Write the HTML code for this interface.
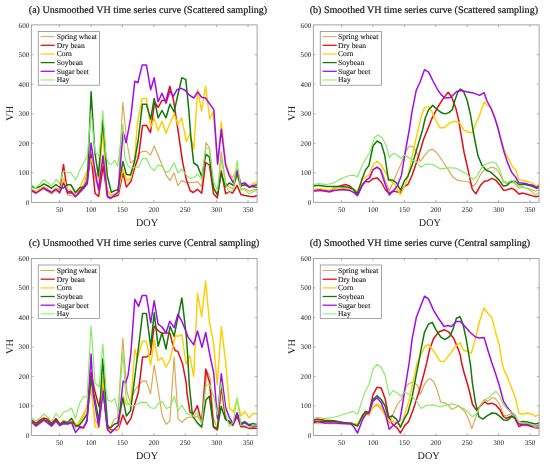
<!DOCTYPE html><html><head><meta charset="utf-8"><title>VH time series</title>
<style>html,body{margin:0;padding:0;background:#fff}svg{display:block}text{text-rendering:geometricPrecision;font-family:"Liberation Serif","Times New Roman",serif;fill:#222}</style></head><body>
<svg width="550" height="465" viewBox="0 0 550 465">
<rect width="550" height="465" fill="#fff"/>
<g id="panel-a">
<text x="28.8" y="12.7" font-size="10.05" fill="#1a1a1a" stroke="#1a1a1a" stroke-width="0.22">(a) Unsmoothed VH time series curve (Scattered sampling)</text>
<clipPath id="cpa"><rect x="31.3" y="24.9" width="225.8" height="177.4"/></clipPath>
<g clip-path="url(#cpa)" fill="none" stroke-linejoin="round" stroke-linecap="butt">
<polyline points="31.7,191.5 36.0,193.5 43.5,189.0 51.5,194.0 56.0,190.5 59.7,193.5 63.5,182.5 67.5,195.0 71.5,195.8 75.5,196.5 80.0,191.5 84.0,185.0 87.3,172.0 91.1,152.0 94.8,178.0 98.6,188.0 102.9,160.0 107.0,190.0 110.7,195.0 118.0,193.0 122.8,102.3 126.6,140.0 130.5,163.0 134.5,160.0 138.5,154.0 142.3,151.5 146.4,151.3 150.5,155.2 154.2,145.9 158.2,155.5 162.0,165.0 166.0,174.9 170.1,180.6 174.1,172.8 177.9,185.5 181.9,180.6 186.2,182.7 190.0,182.4 193.8,182.5 197.4,181.6 201.7,186.7 206.0,142.5 209.6,148.0 213.5,186.7 217.4,195.0 221.2,151.7 225.6,182.9 229.2,187.4 233.3,188.6 237.1,175.9 240.9,189.3 244.7,188.6 249.2,191.2 253.0,189.9 257.2,189.3" stroke="#DDA54E" stroke-width="1.15"/>
<polyline points="31.7,190.0 36.0,192.0 43.5,187.0 51.5,192.0 56.0,188.5 59.7,190.5 63.5,164.5 67.5,193.0 71.5,193.0 75.5,194.5 80.0,190.6 84.0,186.5 87.0,181.3 91.0,154.6 95.1,193.5 98.6,196.4 103.2,166.2 107.3,196.4 110.7,197.6 118.3,195.2 122.9,172.6 126.4,187.1 131.0,181.3 134.4,168.5 138.6,156.4 142.5,125.6 146.4,125.3 150.5,132.6 154.6,101.6 158.1,107.5 162.0,100.4 166.0,100.4 169.8,86.2 173.4,99.5 177.6,127.6 182.6,162.1 186.2,179.1 190.0,190.5 193.2,192.5 197.4,189.3 201.7,193.3 205.7,162.5 209.4,165.0 213.5,193.7 217.4,197.9 221.2,170.8 225.6,193.7 229.2,191.8 232.6,193.1 237.1,185.5 240.9,194.4 244.7,195.4 249.2,196.3 253.0,196.7 257.2,195.6" stroke="#E40D16" stroke-width="1.5"/>
<polyline points="31.7,189.0 36.0,191.5 43.5,186.5 51.5,191.5 56.0,188.0 59.7,191.0 63.5,178.5 67.5,190.0 71.0,190.0 75.5,195.0 80.0,187.0 84.0,178.0 87.3,170.0 91.1,158.7 94.8,170.0 99.3,180.2 102.8,129.5 106.2,188.0 111.3,195.8 117.7,194.0 122.9,169.1 127.0,180.7 131.0,177.8 134.5,161.6 137.4,123.0 142.2,98.5 146.4,98.5 150.7,126.9 154.2,118.4 158.1,130.5 162.0,121.2 166.0,133.3 170.0,123.5 174.1,114.0 177.9,124.8 181.6,118.0 186.4,141.5 189.8,133.8 193.8,149.0 197.6,89.8 201.6,111.1 205.5,86.2 209.8,118.9 213.3,111.8 217.7,165.0 221.3,121.7 225.6,162.5 229.2,173.4 232.6,177.8 237.1,168.3 240.9,184.2 244.7,182.3 249.2,186.1 253.0,183.5 257.2,182.3" stroke="#FFCE00" stroke-width="1.45"/>
<polyline points="31.7,186.5 36.0,188.0 40.0,186.5 44.0,183.8 48.0,186.0 51.5,188.3 56.0,184.5 59.7,187.5 63.5,188.0 67.5,184.5 71.0,185.0 75.5,192.5 79.5,188.0 84.0,186.5 87.3,183.5 91.1,91.7 94.8,152.0 98.4,176.1 102.8,120.0 107.3,176.0 111.3,192.3 114.8,190.5 117.7,190.0 122.9,161.6 126.4,174.4 130.5,175.0 134.5,161.6 138.2,140.0 142.4,104.3 146.4,104.3 150.7,119.1 154.2,98.4 158.1,117.8 162.0,110.5 166.0,117.8 170.0,104.0 174.1,111.9 177.8,95.0 181.9,77.7 185.8,79.6 188.8,110.0 190.9,137.6 193.7,163.0 197.5,165.5 201.7,176.5 205.9,154.3 209.4,156.9 213.5,188.0 217.4,195.0 221.2,173.4 225.6,186.7 229.2,182.9 233.3,185.5 237.1,173.4 240.9,186.1 244.7,184.8 249.2,186.7 253.0,186.5 257.2,187.4" stroke="#12780A" stroke-width="1.5"/>
<polyline points="31.7,190.5 36.0,193.0 43.5,188.0 51.5,192.5 56.0,189.2 59.7,192.5 63.5,183.0 67.5,192.0 71.0,191.5 75.5,196.8 84.0,188.0 87.3,183.6 91.1,143.0 94.8,170.0 98.6,190.0 103.0,155.8 107.8,197.0 110.7,198.5 118.3,191.8 123.0,131.4 126.1,142.7 130.8,117.4 134.8,81.2 137.9,82.7 142.2,64.9 146.4,64.9 150.7,89.8 154.2,77.7 158.1,101.8 162.0,93.3 166.0,103.2 169.8,91.2 173.4,96.1 176.9,89.8 181.2,88.3 185.4,90.5 189.7,95.4 193.8,98.0 197.7,91.9 201.6,97.2 205.5,98.0 213.8,109.6 217.6,163.9 221.3,129.3 225.6,165.1 229.2,175.3 233.3,182.9 237.1,170.8 240.9,184.2 244.7,182.9 249.2,187.4 253.0,185.5 257.2,184.8" stroke="#A00CEB" stroke-width="1.5"/>
<polyline points="31.7,185.0 35.5,188.0 40.0,184.0 44.0,179.5 47.5,182.5 51.5,186.0 56.0,179.5 59.7,183.5 63.5,171.0 67.5,172.5 71.0,172.5 75.5,180.0 80.0,169.7 84.3,161.6 87.5,155.0 91.1,111.0 95.1,152.3 99.1,156.4 102.8,110.8 106.0,156.0 108.4,163.0 111.3,164.5 114.8,160.4 117.7,166.2 122.8,124.3 124.7,157.0 127.6,165.1 131.0,168.3 134.5,167.0 138.6,167.1 142.2,158.6 146.4,158.6 150.4,167.1 154.2,170.6 158.1,165.0 162.0,166.4 166.0,172.8 170.1,170.0 174.1,162.8 177.9,172.8 181.9,169.2 186.2,174.9 189.7,178.4 193.8,177.8 197.4,174.0 201.7,179.1 205.6,148.0 209.4,148.6 213.5,181.6 217.4,190.5 221.2,159.4 225.6,184.2 229.2,193.1 233.3,189.3 237.1,160.6 240.9,189.9 244.7,189.9 249.2,193.7 253.0,191.8 257.2,189.9" stroke="#84EB62" stroke-width="1.15"/>
</g>
<rect x="31.3" y="24.9" width="225.8" height="177.4" fill="none" stroke="#8c8c8c" stroke-width="0.8"/>
<text x="59.6" y="211.9" font-size="7.15" text-anchor="middle" fill="#484848">50</text>
<text x="91.0" y="211.9" font-size="7.15" text-anchor="middle" fill="#484848">100</text>
<text x="122.4" y="211.9" font-size="7.15" text-anchor="middle" fill="#484848">150</text>
<text x="153.8" y="211.9" font-size="7.15" text-anchor="middle" fill="#484848">200</text>
<text x="185.2" y="211.9" font-size="7.15" text-anchor="middle" fill="#484848">250</text>
<text x="216.6" y="211.9" font-size="7.15" text-anchor="middle" fill="#484848">300</text>
<text x="248.0" y="211.9" font-size="7.15" text-anchor="middle" fill="#484848">350</text>
<text x="29.3" y="204.6" font-size="7.15" text-anchor="end" fill="#484848">0</text>
<text x="29.3" y="175.1" font-size="7.15" text-anchor="end" fill="#484848">100</text>
<text x="29.3" y="145.6" font-size="7.15" text-anchor="end" fill="#484848">200</text>
<text x="29.3" y="116.1" font-size="7.15" text-anchor="end" fill="#484848">300</text>
<text x="29.3" y="86.5" font-size="7.15" text-anchor="end" fill="#484848">400</text>
<text x="29.3" y="57.0" font-size="7.15" text-anchor="end" fill="#484848">500</text>
<text x="29.3" y="27.5" font-size="7.15" text-anchor="end" fill="#484848">600</text>
<path d="M59.6,202.3v-2.3M59.6,24.9v2.3M91.0,202.3v-2.3M91.0,24.9v2.3M122.4,202.3v-2.3M122.4,24.9v2.3M153.8,202.3v-2.3M153.8,24.9v2.3M185.2,202.3v-2.3M185.2,24.9v2.3M216.6,202.3v-2.3M216.6,24.9v2.3M248.0,202.3v-2.3M248.0,24.9v2.3M31.3,172.8h2.3M257.1,172.8h-2.3M31.3,143.3h2.3M257.1,143.3h-2.3M31.3,113.8h2.3M257.1,113.8h-2.3M31.3,84.2h2.3M257.1,84.2h-2.3M31.3,54.7h2.3M257.1,54.7h-2.3" stroke="#8c8c8c" stroke-width="0.65" fill="none"/>
<text x="147.0" y="226.1" font-size="10.2" text-anchor="middle">DOY</text>
<text transform="translate(13.3,113.3) rotate(-90)" font-size="10.2" text-anchor="middle">VH</text>
<rect x="38.2" y="31.6" width="61.3" height="53.6" fill="#fff" stroke="#777" stroke-width="0.65"/>
<line x1="40.6" x2="54.8" y1="36.6" y2="36.6" stroke="#DDA54E" stroke-width="0.98"/>
<text x="56.70" y="38.9" font-size="7.6" fill="#222" stroke="#222" stroke-width="0.12">Spring wheat</text>
<line x1="40.6" x2="54.8" y1="45.3" y2="45.3" stroke="#E40D16" stroke-width="1.27"/>
<text x="56.70" y="47.6" font-size="7.6" fill="#222" stroke="#222" stroke-width="0.12">Dry bean</text>
<line x1="40.6" x2="54.8" y1="54.0" y2="54.0" stroke="#FFCE00" stroke-width="1.23"/>
<text x="56.70" y="56.3" font-size="7.6" fill="#222" stroke="#222" stroke-width="0.12">Corn</text>
<line x1="40.6" x2="54.8" y1="62.6" y2="62.6" stroke="#12780A" stroke-width="1.27"/>
<text x="56.70" y="64.9" font-size="7.6" fill="#222" stroke="#222" stroke-width="0.12">Soybean</text>
<line x1="40.6" x2="54.8" y1="71.3" y2="71.3" stroke="#A00CEB" stroke-width="1.27"/>
<text x="56.70" y="73.6" font-size="7.6" fill="#222" stroke="#222" stroke-width="0.12">Sugar beet</text>
<line x1="40.6" x2="54.8" y1="80.0" y2="80.0" stroke="#84EB62" stroke-width="0.98"/>
<text x="56.70" y="82.3" font-size="7.6" fill="#222" stroke="#222" stroke-width="0.12">Hay</text>
</g>
<g id="panel-b">
<text x="309.7" y="12.7" font-size="10.05" fill="#1a1a1a" stroke="#1a1a1a" stroke-width="0.22">(b) Smoothed VH time series curve (Scattered sampling)</text>
<clipPath id="cpb"><rect x="313.3" y="24.9" width="225.8" height="177.4"/></clipPath>
<g clip-path="url(#cpb)" fill="none" stroke-linejoin="round" stroke-linecap="butt">
<polyline points="313.6,191.2 319.8,190.6 329.6,192.2 334.5,190.6 342.7,189.8 349.3,190.6 354.2,193.0 357.5,195.2 362.4,184.9 366.5,180.4 369.7,177.1 373.0,169.7 377.1,166.5 381.2,169.7 385.3,180.4 389.2,191.0 393.2,182.0 397.3,172.2 401.4,163.2 405.5,151.7 409.5,146.0 413.6,146.8 417.7,155.0 420.2,161.5 424.3,155.8 429.2,150.1 432.5,149.3 436.6,152.5 442.3,160.7 448.8,170.6 452.9,177.1 457.8,180.4 463.6,181.2 468.2,181.7 473.1,186.1 476.4,182.8 480.5,174.6 484.5,169.7 488.6,168.6 491.9,167.0 496.0,168.6 499.3,173.0 503.4,182.0 506.6,183.6 511.6,180.4 515.6,184.5 518.9,188.2 523.0,187.2 527.1,188.2 532.0,189.9 535.3,191.0 539.2,189.9" stroke="#DDA54E" stroke-width="1.15"/>
<polyline points="313.6,190.2 319.8,189.4 329.6,191.0 334.5,187.7 339.5,186.1 345.2,184.5 349.3,185.6 353.4,189.4 357.5,194.8 362.4,184.5 365.6,181.2 368.9,182.0 373.0,178.7 377.1,177.9 381.2,182.0 385.3,189.5 389.1,193.5 393.2,191.0 396.5,191.8 400.5,192.6 404.6,186.1 407.9,184.5 412.0,175.5 417.7,159.1 423.5,139.5 427.6,129.5 431.8,118.8 437.6,107.4 443.3,98.4 448.2,92.3 451.5,96.7 455.6,107.4 458.8,120.5 460.4,130.8 464.1,152.5 468.2,170.6 472.3,189.4 475.9,193.8 480.5,185.3 484.5,181.2 487.8,180.7 491.9,178.4 496.0,180.4 500.1,185.3 503.4,190.2 506.6,189.9 511.6,188.2 514.8,189.9 518.9,194.0 523.0,193.1 528.7,194.8 532.8,195.9 536.1,196.7 539.2,195.9" stroke="#E40D16" stroke-width="1.5"/>
<polyline points="313.6,189.4 319.8,188.6 329.6,190.2 334.5,187.7 342.7,188.2 350.9,188.6 357.5,191.0 362.4,179.6 366.5,176.3 368.9,175.5 373.0,164.8 377.1,161.2 381.2,164.8 385.3,172.2 389.9,180.4 394.8,184.5 400.5,194.8 406.3,182.0 409.5,168.9 413.6,149.3 417.8,131.2 421.2,116.4 424.5,107.4 428.6,106.6 431.8,111.5 435.9,120.5 440.0,127.8 444.1,127.8 449.8,122.9 454.7,121.3 459.6,122.6 463.9,130.0 468.2,132.0 472.3,133.0 475.5,124.0 479.6,115.0 484.2,101.9 487.0,105.2 490.6,107.3 495.4,118.5 498.6,130.0 504.4,150.9 508.3,158.3 512.4,166.5 515.6,169.7 518.9,179.6 524.6,180.7 528.7,181.7 532.8,183.6 536.1,186.1 539.2,184.5" stroke="#FFCE00" stroke-width="1.45"/>
<polyline points="313.6,186.1 318.2,185.3 326.4,186.4 339.5,186.6 347.6,186.9 353.4,189.4 357.5,193.5 362.4,177.9 365.6,169.7 368.9,165.6 373.0,146.0 377.1,141.1 381.2,143.5 384.7,155.0 388.4,180.0 392.4,180.0 396.5,182.8 400.5,190.2 404.6,180.4 407.9,176.3 412.0,165.6 417.7,146.0 422.5,130.0 425.3,118.0 428.6,109.8 432.6,105.4 437.6,109.8 441.6,112.8 444.9,113.9 449.0,112.6 452.3,109.8 454.7,100.8 458.0,91.8 460.5,89.0 463.5,91.3 467.2,100.5 470.4,114.5 473.0,130.0 475.0,141.0 478.0,155.8 482.1,165.6 486.2,170.2 490.3,171.9 494.4,175.5 499.3,180.4 503.4,186.1 506.6,185.6 510.7,182.0 514.8,181.2 518.9,184.5 524.6,184.5 528.7,185.3 532.8,186.6 536.1,188.2 539.2,187.7" stroke="#12780A" stroke-width="1.5"/>
<polyline points="313.6,191.0 319.8,190.2 329.6,191.8 334.5,190.2 342.7,189.4 349.3,190.2 354.2,192.6 357.5,195.6 362.4,185.3 366.5,179.6 369.7,177.9 373.0,169.7 377.1,167.3 380.4,169.7 385.3,184.5 389.3,195.1 393.2,191.0 397.3,186.1 401.4,175.5 405.5,150.9 409.2,130.0 412.2,110.6 416.3,90.2 420.4,81.2 424.5,69.7 428.6,72.2 433.5,82.0 438.4,91.0 441.6,95.1 444.9,97.9 450.6,97.5 456.4,91.8 460.5,90.5 466.5,91.8 473.1,92.9 479.6,95.4 484.1,92.6 487.0,101.1 491.1,108.5 495.2,119.1 498.0,128.5 500.9,140.0 504.2,152.5 507.5,162.4 511.6,172.2 515.6,177.1 518.9,182.8 524.6,183.3 528.7,184.5 532.8,185.3 536.1,187.2 539.2,186.1" stroke="#A00CEB" stroke-width="1.5"/>
<polyline points="313.6,184.5 318.2,183.6 326.4,184.5 332.9,183.3 339.5,179.6 347.6,176.0 353.4,175.1 357.5,176.8 362.4,164.8 366.5,157.5 369.7,152.5 374.6,137.8 377.9,134.9 382.0,137.5 386.1,145.2 389.3,157.5 393.4,153.4 397.3,155.0 400.5,158.3 404.6,155.0 409.5,158.3 416.1,161.5 421.0,167.3 425.9,164.0 432.5,164.3 440.6,168.9 448.8,167.8 455.4,168.1 460.0,170.2 466.5,173.8 469.8,177.1 473.1,179.1 476.4,177.1 480.5,169.7 484.5,164.8 488.6,163.2 492.7,162.0 496.0,163.2 500.1,170.6 503.4,180.4 507.5,182.8 511.6,180.4 514.8,182.0 518.9,186.1 523.0,186.9 527.1,188.6 532.0,191.8 535.3,194.8 539.2,192.6" stroke="#84EB62" stroke-width="1.15"/>
</g>
<rect x="313.3" y="24.9" width="225.8" height="177.4" fill="none" stroke="#8c8c8c" stroke-width="0.8"/>
<text x="341.6" y="211.9" font-size="7.15" text-anchor="middle" fill="#484848">50</text>
<text x="373.0" y="211.9" font-size="7.15" text-anchor="middle" fill="#484848">100</text>
<text x="404.4" y="211.9" font-size="7.15" text-anchor="middle" fill="#484848">150</text>
<text x="435.8" y="211.9" font-size="7.15" text-anchor="middle" fill="#484848">200</text>
<text x="467.2" y="211.9" font-size="7.15" text-anchor="middle" fill="#484848">250</text>
<text x="498.6" y="211.9" font-size="7.15" text-anchor="middle" fill="#484848">300</text>
<text x="530.0" y="211.9" font-size="7.15" text-anchor="middle" fill="#484848">350</text>
<text x="311.3" y="204.6" font-size="7.15" text-anchor="end" fill="#484848">0</text>
<text x="311.3" y="175.1" font-size="7.15" text-anchor="end" fill="#484848">100</text>
<text x="311.3" y="145.6" font-size="7.15" text-anchor="end" fill="#484848">200</text>
<text x="311.3" y="116.1" font-size="7.15" text-anchor="end" fill="#484848">300</text>
<text x="311.3" y="86.5" font-size="7.15" text-anchor="end" fill="#484848">400</text>
<text x="311.3" y="57.0" font-size="7.15" text-anchor="end" fill="#484848">500</text>
<text x="311.3" y="27.5" font-size="7.15" text-anchor="end" fill="#484848">600</text>
<path d="M341.6,202.3v-2.3M341.6,24.9v2.3M373.0,202.3v-2.3M373.0,24.9v2.3M404.4,202.3v-2.3M404.4,24.9v2.3M435.8,202.3v-2.3M435.8,24.9v2.3M467.2,202.3v-2.3M467.2,24.9v2.3M498.6,202.3v-2.3M498.6,24.9v2.3M530.0,202.3v-2.3M530.0,24.9v2.3M313.3,172.8h2.3M539.1,172.8h-2.3M313.3,143.3h2.3M539.1,143.3h-2.3M313.3,113.8h2.3M539.1,113.8h-2.3M313.3,84.2h2.3M539.1,84.2h-2.3M313.3,54.7h2.3M539.1,54.7h-2.3" stroke="#8c8c8c" stroke-width="0.65" fill="none"/>
<text x="429.9" y="226.1" font-size="10.2" text-anchor="middle">DOY</text>
<text transform="translate(295.3,113.3) rotate(-90)" font-size="10.2" text-anchor="middle">VH</text>
<rect x="320.2" y="31.6" width="61.3" height="53.6" fill="#fff" stroke="#777" stroke-width="0.65"/>
<line x1="322.6" x2="336.8" y1="36.6" y2="36.6" stroke="#DDA54E" stroke-width="0.98"/>
<text x="338.05" y="38.9" font-size="7.6" fill="#222" stroke="#222" stroke-width="0.12">Spring wheat</text>
<line x1="322.6" x2="336.8" y1="45.3" y2="45.3" stroke="#E40D16" stroke-width="1.27"/>
<text x="338.05" y="47.6" font-size="7.6" fill="#222" stroke="#222" stroke-width="0.12">Dry bean</text>
<line x1="322.6" x2="336.8" y1="54.0" y2="54.0" stroke="#FFCE00" stroke-width="1.23"/>
<text x="338.05" y="56.3" font-size="7.6" fill="#222" stroke="#222" stroke-width="0.12">Corn</text>
<line x1="322.6" x2="336.8" y1="62.6" y2="62.6" stroke="#12780A" stroke-width="1.27"/>
<text x="338.05" y="64.9" font-size="7.6" fill="#222" stroke="#222" stroke-width="0.12">Soybean</text>
<line x1="322.6" x2="336.8" y1="71.3" y2="71.3" stroke="#A00CEB" stroke-width="1.27"/>
<text x="338.05" y="73.6" font-size="7.6" fill="#222" stroke="#222" stroke-width="0.12">Sugar beet</text>
<line x1="322.6" x2="336.8" y1="80.0" y2="80.0" stroke="#84EB62" stroke-width="0.98"/>
<text x="338.05" y="82.3" font-size="7.6" fill="#222" stroke="#222" stroke-width="0.12">Hay</text>
</g>
<g id="panel-c">
<text x="28.8" y="245.9" font-size="10.05" fill="#1a1a1a" stroke="#1a1a1a" stroke-width="0.22">(c) Unsmoothed VH time series curve (Central sampling)</text>
<clipPath id="cpc"><rect x="31.3" y="258.4" width="225.8" height="177.10000000000002"/></clipPath>
<g clip-path="url(#cpc)" fill="none" stroke-linejoin="round" stroke-linecap="butt">
<polyline points="31.7,422.5 36.0,426.5 44.0,420.5 51.5,426.5 56.0,421.5 59.7,426.0 63.5,424.0 67.5,424.5 71.5,423.0 75.5,428.0 79.5,421.0 85.5,410.0 87.5,404.0 91.1,390.0 95.1,420.0 99.1,426.0 102.7,392.0 107.0,424.0 110.7,428.0 112.5,422.4 114.8,419.0 117.7,417.8 122.8,338.4 127.0,392.3 130.3,402.4 135.0,389.8 142.2,381.1 146.4,381.1 150.5,393.9 154.2,364.8 158.2,390.0 162.3,416.1 166.1,424.3 169.9,421.1 174.1,357.0 178.1,418.6 181.9,422.4 186.4,418.0 190.2,417.0 193.8,417.8 197.4,415.9 201.7,422.9 207.2,371.2 210.1,377.8 213.5,418.0 217.4,429.3 221.2,383.5 225.6,418.5 229.2,423.5 233.3,424.8 237.1,415.9 240.9,426.1 244.7,426.1 249.2,427.4 253.0,426.7 257.2,426.7" stroke="#DDA54E" stroke-width="1.15"/>
<polyline points="31.7,420.0 36.0,423.0 40.0,420.0 44.0,418.0 48.0,419.5 51.5,423.5 56.0,418.5 59.7,424.0 63.5,422.0 67.5,423.5 71.5,422.0 75.5,425.0 79.5,426.5 83.5,427.7 87.0,421.3 91.1,372.5 95.1,392.3 99.1,406.8 102.7,384.0 107.0,425.0 110.7,430.0 114.5,430.0 118.3,429.4 122.9,414.9 127.0,424.2 131.0,418.4 134.4,405.5 138.4,392.2 142.6,357.0 146.4,357.0 150.4,354.2 154.2,326.3 158.1,330.6 162.0,333.4 166.0,332.7 170.1,333.4 172.7,344.7 175.2,350.5 177.9,351.4 182.6,364.1 186.2,382.6 187.0,393.2 190.0,412.1 193.2,414.0 197.4,405.7 201.7,422.9 205.8,369.1 209.5,382.0 213.5,427.4 217.4,429.9 221.2,386.0 225.6,418.5 229.2,422.3 232.6,425.5 237.1,416.5 240.9,426.7 244.7,426.7 249.2,428.4 253.0,428.0 257.2,428.4" stroke="#E40D16" stroke-width="1.5"/>
<polyline points="31.7,423.0 36.0,426.5 44.0,421.0 51.5,426.0 56.0,421.5 59.7,425.0 63.5,420.0 67.5,423.0 71.5,418.0 75.5,424.0 78.0,424.5 81.0,420.0 84.6,414.3 87.3,405.0 91.1,386.0 95.1,427.1 99.1,427.7 102.9,377.0 107.0,425.0 109.0,430.0 111.3,431.1 118.3,429.4 122.9,395.8 126.4,404.5 129.3,404.5 130.8,403.0 134.8,349.2 137.4,358.4 142.2,341.3 146.4,341.3 150.7,364.8 154.2,339.9 158.1,360.6 162.0,357.7 166.0,367.0 170.1,359.9 173.4,344.5 175.5,335.5 177.9,336.2 181.9,334.8 186.1,364.0 189.7,355.7 193.7,376.4 197.5,293.1 201.7,316.6 205.6,281.1 209.5,322.2 213.7,344.0 217.2,384.7 221.3,326.7 225.5,360.5 229.5,408.3 233.3,412.1 237.1,399.4 240.9,415.9 244.7,411.5 249.2,417.8 253.0,413.4 257.2,414.0" stroke="#FFCE00" stroke-width="1.45"/>
<polyline points="31.7,421.6 36.0,424.7 40.0,421.7 44.0,419.8 48.0,421.2 51.5,425.2 56.0,420.3 59.7,424.6 63.5,421.5 67.5,422.5 71.5,418.5 75.5,426.0 79.5,425.0 82.5,421.0 84.6,417.8 87.3,414.0 91.1,379.6 95.1,400.4 99.1,421.3 102.7,359.0 107.8,428.2 111.3,427.1 114.2,424.2 117.7,423.0 122.9,398.1 126.4,416.1 130.5,410.8 133.1,390.7 138.3,349.0 142.6,313.5 146.4,313.5 150.7,346.9 154.2,312.8 158.1,346.2 162.0,332.7 166.0,349.0 170.1,326.3 174.1,336.2 181.9,297.9 186.2,334.8 187.6,354.0 189.3,385.0 192.5,415.9 197.4,422.9 201.7,427.1 205.9,400.0 209.3,396.2 213.5,426.7 217.4,428.6 221.2,406.4 225.6,419.7 229.2,421.0 232.6,424.8 237.1,413.4 240.9,423.5 244.7,421.6 249.2,424.8 253.0,423.5 257.2,424.8" stroke="#12780A" stroke-width="1.5"/>
<polyline points="31.7,422.0 36.0,426.0 44.0,420.0 51.5,426.0 56.0,421.0 59.7,425.5 63.5,423.5 67.5,424.0 71.5,422.5 75.5,432.5 79.5,427.5 83.5,427.7 87.0,420.1 91.1,354.0 93.3,394.6 98.6,426.5 103.2,391.1 107.3,429.4 110.7,432.9 118.3,425.3 123.2,381.0 125.4,383.0 128.0,375.5 130.8,354.0 134.8,299.3 138.6,306.4 142.2,295.4 146.4,295.4 150.7,322.8 154.2,300.8 158.1,324.2 162.0,327.0 166.0,332.7 169.8,321.3 174.1,327.7 177.9,314.2 181.9,321.3 186.2,332.0 188.1,337.1 193.7,344.7 197.5,331.0 202.0,347.4 205.7,332.5 209.6,353.6 213.7,373.0 217.4,418.5 221.3,373.7 225.6,407.0 229.2,417.2 233.3,424.2 237.1,412.7 240.9,424.8 244.7,422.9 249.2,425.5 253.0,425.8 257.2,426.1" stroke="#A00CEB" stroke-width="1.5"/>
<polyline points="31.7,418.0 36.0,421.0 40.0,418.0 44.0,414.0 48.0,417.5 51.5,421.5 56.0,413.5 59.7,418.0 63.5,412.0 67.5,411.0 71.5,408.0 75.5,418.5 79.5,403.5 83.5,396.5 87.0,397.5 91.1,325.7 95.1,383.0 99.2,387.0 102.8,344.1 106.0,389.0 107.8,400.0 111.3,401.6 114.8,398.7 118.3,412.0 122.8,352.0 125.8,395.8 127.6,402.7 131.0,405.6 134.5,405.6 137.5,404.0 142.0,402.1 146.4,402.4 150.6,407.8 154.6,408.5 158.5,403.4 162.3,401.5 166.1,408.5 169.9,407.2 174.3,396.5 178.1,410.4 181.9,405.3 186.4,412.9 190.2,415.0 193.8,416.5 197.4,412.7 201.7,423.5 205.5,386.6 209.3,384.1 213.5,395.5 217.4,414.6 221.2,382.0 225.6,413.4 229.2,426.1 233.3,422.3 237.1,397.5 240.9,425.5 244.7,425.5 249.2,427.4 253.0,425.5 257.2,424.8" stroke="#84EB62" stroke-width="1.15"/>
</g>
<rect x="31.3" y="258.4" width="225.8" height="177.1" fill="none" stroke="#8c8c8c" stroke-width="0.8"/>
<text x="59.6" y="445.1" font-size="7.15" text-anchor="middle" fill="#484848">50</text>
<text x="91.0" y="445.1" font-size="7.15" text-anchor="middle" fill="#484848">100</text>
<text x="122.4" y="445.1" font-size="7.15" text-anchor="middle" fill="#484848">150</text>
<text x="153.8" y="445.1" font-size="7.15" text-anchor="middle" fill="#484848">200</text>
<text x="185.2" y="445.1" font-size="7.15" text-anchor="middle" fill="#484848">250</text>
<text x="216.6" y="445.1" font-size="7.15" text-anchor="middle" fill="#484848">300</text>
<text x="248.0" y="445.1" font-size="7.15" text-anchor="middle" fill="#484848">350</text>
<text x="29.3" y="437.8" font-size="7.15" text-anchor="end" fill="#484848">0</text>
<text x="29.3" y="408.3" font-size="7.15" text-anchor="end" fill="#484848">100</text>
<text x="29.3" y="378.8" font-size="7.15" text-anchor="end" fill="#484848">200</text>
<text x="29.3" y="349.3" font-size="7.15" text-anchor="end" fill="#484848">300</text>
<text x="29.3" y="319.7" font-size="7.15" text-anchor="end" fill="#484848">400</text>
<text x="29.3" y="290.2" font-size="7.15" text-anchor="end" fill="#484848">500</text>
<text x="29.3" y="260.7" font-size="7.15" text-anchor="end" fill="#484848">600</text>
<path d="M59.6,435.5v-2.3M59.6,258.4v2.3M91.0,435.5v-2.3M91.0,258.4v2.3M122.4,435.5v-2.3M122.4,258.4v2.3M153.8,435.5v-2.3M153.8,258.4v2.3M185.2,435.5v-2.3M185.2,258.4v2.3M216.6,435.5v-2.3M216.6,258.4v2.3M248.0,435.5v-2.3M248.0,258.4v2.3M31.3,406.0h2.3M257.1,406.0h-2.3M31.3,376.5h2.3M257.1,376.5h-2.3M31.3,347.0h2.3M257.1,347.0h-2.3M31.3,317.4h2.3M257.1,317.4h-2.3M31.3,287.9h2.3M257.1,287.9h-2.3" stroke="#8c8c8c" stroke-width="0.65" fill="none"/>
<text x="147.0" y="459.3" font-size="10.2" text-anchor="middle">DOY</text>
<text transform="translate(13.3,346.6) rotate(-90)" font-size="10.2" text-anchor="middle">VH</text>
<rect x="38.2" y="265.0" width="61.3" height="53.6" fill="#fff" stroke="#777" stroke-width="0.65"/>
<line x1="40.6" x2="54.8" y1="270.5" y2="270.5" stroke="#DDA54E" stroke-width="0.98"/>
<text x="56.70" y="272.8" font-size="7.6" fill="#222" stroke="#222" stroke-width="0.12">Spring wheat</text>
<line x1="40.6" x2="54.8" y1="279.2" y2="279.2" stroke="#E40D16" stroke-width="1.27"/>
<text x="56.70" y="281.5" font-size="7.6" fill="#222" stroke="#222" stroke-width="0.12">Dry bean</text>
<line x1="40.6" x2="54.8" y1="287.9" y2="287.9" stroke="#FFCE00" stroke-width="1.23"/>
<text x="56.70" y="290.2" font-size="7.6" fill="#222" stroke="#222" stroke-width="0.12">Corn</text>
<line x1="40.6" x2="54.8" y1="296.5" y2="296.5" stroke="#12780A" stroke-width="1.27"/>
<text x="56.70" y="298.8" font-size="7.6" fill="#222" stroke="#222" stroke-width="0.12">Soybean</text>
<line x1="40.6" x2="54.8" y1="305.2" y2="305.2" stroke="#A00CEB" stroke-width="1.27"/>
<text x="56.70" y="307.5" font-size="7.6" fill="#222" stroke="#222" stroke-width="0.12">Sugar beet</text>
<line x1="40.6" x2="54.8" y1="313.9" y2="313.9" stroke="#84EB62" stroke-width="0.98"/>
<text x="56.70" y="316.2" font-size="7.6" fill="#222" stroke="#222" stroke-width="0.12">Hay</text>
</g>
<g id="panel-d">
<text x="309.7" y="245.9" font-size="10.05" fill="#1a1a1a" stroke="#1a1a1a" stroke-width="0.22">(d) Smoothed VH time series curve (Central sampling)</text>
<clipPath id="cpd"><rect x="313.3" y="258.4" width="225.8" height="177.10000000000002"/></clipPath>
<g clip-path="url(#cpd)" fill="none" stroke-linejoin="round" stroke-linecap="butt">
<polyline points="313.6,423.4 324.7,423.6 334.5,423.8 342.7,423.8 350.9,424.0 357.5,424.4 362.4,415.2 365.6,410.9 368.9,413.4 373.0,407.6 377.1,405.2 381.2,409.3 385.3,415.8 389.3,423.2 393.2,413.4 397.3,404.4 401.4,399.5 405.5,387.2 409.5,383.1 413.6,382.3 417.7,385.5 420.2,394.6 424.3,384.7 428.4,379.0 430.8,379.0 434.1,382.3 437.4,390.5 440.6,401.9 446.4,403.6 452.1,409.3 458.6,406.0 464.9,411.5 468.7,419.5 471.8,428.6 475.5,418.3 479.6,406.0 484.2,399.5 487.8,401.1 491.9,397.8 495.2,398.3 499.3,403.6 503.4,415.0 506.6,415.8 511.6,413.4 515.6,418.3 518.9,424.0 523.0,423.2 527.1,423.5 532.0,425.2 535.3,426.1 539.2,425.2" stroke="#DDA54E" stroke-width="1.15"/>
<polyline points="313.6,419.9 317.4,419.1 324.7,420.2 334.5,420.7 342.7,422.4 350.9,422.9 357.5,425.6 362.4,416.6 366.5,412.6 368.9,413.4 373.0,394.6 377.1,387.2 381.2,388.0 385.2,399.0 388.6,416.6 392.4,424.0 397.3,428.1 400.5,433.0 404.6,425.6 408.7,421.6 413.6,408.5 419.4,390.5 424.3,372.5 426.8,362.5 429.4,350.2 433.5,338.7 438.4,332.2 444.1,329.7 449.0,332.2 453.9,338.7 458.0,348.6 460.4,355.5 461.5,362.5 464.1,372.8 466.5,380.8 469.3,390.5 472.5,404.5 476.4,410.1 480.5,406.0 484.5,401.9 487.8,403.9 491.9,403.2 496.0,405.2 500.1,410.1 503.4,416.6 506.6,418.3 511.6,415.8 514.8,418.3 518.9,426.5 523.0,424.8 527.1,425.2 532.0,426.5 535.3,427.8 539.2,428.1" stroke="#E40D16" stroke-width="1.5"/>
<polyline points="313.6,423.2 324.7,423.2 334.5,423.5 342.7,422.9 350.9,422.9 357.5,424.0 362.4,415.0 366.5,414.2 368.9,415.8 373.0,406.8 377.1,403.9 381.2,406.8 385.2,414.5 389.1,420.7 394.8,421.6 400.5,426.5 404.6,415.0 409.5,398.6 413.6,379.0 417.3,362.5 421.2,354.3 424.5,346.9 428.6,344.5 431.8,348.6 435.9,354.3 440.0,361.2 444.1,361.4 449.8,354.3 455.6,346.1 460.1,342.7 463.5,350.5 467.6,351.2 471.3,353.4 475.4,338.6 479.5,321.5 484.0,308.0 487.8,313.2 491.9,317.6 495.2,331.2 499.3,345.1 501.9,362.0 503.4,368.4 507.5,377.4 511.6,388.0 515.6,398.6 518.9,413.4 523.0,414.2 527.1,413.0 532.0,414.2 535.3,416.3 539.2,414.7" stroke="#FFCE00" stroke-width="1.45"/>
<polyline points="313.6,421.2 324.7,421.2 334.5,421.6 342.7,422.4 350.9,423.2 357.5,426.1 362.4,415.8 365.6,411.4 368.9,412.6 373.0,399.5 377.1,395.7 381.2,399.5 385.2,406.0 388.3,417.5 392.4,415.8 396.5,419.1 400.5,427.3 404.6,418.3 407.9,412.6 412.0,397.8 416.1,375.7 418.7,362.5 421.2,348.6 424.5,332.2 428.6,324.0 432.3,322.4 435.9,329.7 440.8,337.1 444.9,339.6 449.8,336.3 453.1,328.9 456.4,318.3 460.1,316.8 463.1,324.5 466.3,339.5 469.2,357.0 470.5,365.0 472.4,383.0 475.3,401.9 478.8,416.6 482.9,419.1 487.0,415.8 491.9,413.0 496.0,413.4 500.1,416.6 503.4,419.9 507.5,420.2 511.6,416.6 514.8,417.5 518.9,422.4 523.0,421.6 527.1,421.9 532.0,423.2 535.3,424.0 539.2,422.9" stroke="#12780A" stroke-width="1.5"/>
<polyline points="313.6,422.9 317.4,421.6 324.7,422.9 334.5,422.9 342.7,423.5 350.9,424.0 354.2,427.3 357.5,433.0 362.4,419.9 366.5,413.4 368.9,413.4 373.0,401.1 377.1,397.8 381.2,402.7 385.2,413.0 389.2,429.3 394.0,424.8 399.7,420.7 402.2,406.8 405.5,385.5 409.2,362.5 412.2,338.7 416.3,317.5 420.4,306.8 424.5,296.2 428.6,299.1 433.5,310.1 438.4,318.3 444.1,326.5 447.4,325.6 451.5,326.5 456.4,321.5 460.3,321.4 464.6,326.0 470.3,332.5 475.4,337.0 479.6,338.1 484.1,337.4 487.8,350.0 491.5,361.7 495.2,372.5 499.3,385.5 503.4,401.1 507.5,407.6 511.6,412.6 514.8,415.0 518.9,424.0 523.0,424.5 527.1,424.0 532.0,425.6 535.3,427.3 539.2,424.8" stroke="#A00CEB" stroke-width="1.5"/>
<polyline points="313.6,418.3 318.2,417.5 324.7,418.6 332.9,417.5 339.5,415.8 347.6,413.0 353.4,411.4 357.5,414.2 361.6,401.9 365.6,390.5 368.9,384.7 373.0,369.2 377.1,364.3 381.2,367.5 385.2,375.5 389.3,395.4 392.9,390.5 397.3,392.9 400.5,396.2 404.6,392.1 409.5,394.6 416.1,400.3 421.0,408.5 425.9,405.5 432.5,404.9 440.6,406.8 447.2,404.9 452.1,403.9 458.6,406.0 464.9,409.3 469.0,413.4 472.3,416.8 476.4,413.7 480.5,405.2 484.5,400.3 488.6,397.8 492.7,393.7 496.0,391.3 499.3,395.4 503.4,404.4 507.5,409.3 511.6,412.6 514.8,415.0 518.9,422.4 523.0,422.9 527.1,423.2 532.0,424.8 535.3,427.3 539.2,425.6" stroke="#84EB62" stroke-width="1.15"/>
</g>
<rect x="313.3" y="258.4" width="225.8" height="177.1" fill="none" stroke="#8c8c8c" stroke-width="0.8"/>
<text x="341.6" y="445.1" font-size="7.15" text-anchor="middle" fill="#484848">50</text>
<text x="373.0" y="445.1" font-size="7.15" text-anchor="middle" fill="#484848">100</text>
<text x="404.4" y="445.1" font-size="7.15" text-anchor="middle" fill="#484848">150</text>
<text x="435.8" y="445.1" font-size="7.15" text-anchor="middle" fill="#484848">200</text>
<text x="467.2" y="445.1" font-size="7.15" text-anchor="middle" fill="#484848">250</text>
<text x="498.6" y="445.1" font-size="7.15" text-anchor="middle" fill="#484848">300</text>
<text x="530.0" y="445.1" font-size="7.15" text-anchor="middle" fill="#484848">350</text>
<text x="311.3" y="437.8" font-size="7.15" text-anchor="end" fill="#484848">0</text>
<text x="311.3" y="408.3" font-size="7.15" text-anchor="end" fill="#484848">100</text>
<text x="311.3" y="378.8" font-size="7.15" text-anchor="end" fill="#484848">200</text>
<text x="311.3" y="349.3" font-size="7.15" text-anchor="end" fill="#484848">300</text>
<text x="311.3" y="319.7" font-size="7.15" text-anchor="end" fill="#484848">400</text>
<text x="311.3" y="290.2" font-size="7.15" text-anchor="end" fill="#484848">500</text>
<text x="311.3" y="260.7" font-size="7.15" text-anchor="end" fill="#484848">600</text>
<path d="M341.6,435.5v-2.3M341.6,258.4v2.3M373.0,435.5v-2.3M373.0,258.4v2.3M404.4,435.5v-2.3M404.4,258.4v2.3M435.8,435.5v-2.3M435.8,258.4v2.3M467.2,435.5v-2.3M467.2,258.4v2.3M498.6,435.5v-2.3M498.6,258.4v2.3M530.0,435.5v-2.3M530.0,258.4v2.3M313.3,406.0h2.3M539.1,406.0h-2.3M313.3,376.5h2.3M539.1,376.5h-2.3M313.3,347.0h2.3M539.1,347.0h-2.3M313.3,317.4h2.3M539.1,317.4h-2.3M313.3,287.9h2.3M539.1,287.9h-2.3" stroke="#8c8c8c" stroke-width="0.65" fill="none"/>
<text x="428.6" y="459.3" font-size="10.2" text-anchor="middle">DOY</text>
<text transform="translate(295.3,346.6) rotate(-90)" font-size="10.2" text-anchor="middle">VH</text>
<rect x="320.2" y="265.0" width="61.3" height="53.6" fill="#fff" stroke="#777" stroke-width="0.65"/>
<line x1="322.6" x2="336.8" y1="270.5" y2="270.5" stroke="#DDA54E" stroke-width="0.98"/>
<text x="338.05" y="272.8" font-size="7.6" fill="#222" stroke="#222" stroke-width="0.12">Spring wheat</text>
<line x1="322.6" x2="336.8" y1="279.2" y2="279.2" stroke="#E40D16" stroke-width="1.27"/>
<text x="338.05" y="281.5" font-size="7.6" fill="#222" stroke="#222" stroke-width="0.12">Dry bean</text>
<line x1="322.6" x2="336.8" y1="287.9" y2="287.9" stroke="#FFCE00" stroke-width="1.23"/>
<text x="338.05" y="290.2" font-size="7.6" fill="#222" stroke="#222" stroke-width="0.12">Corn</text>
<line x1="322.6" x2="336.8" y1="296.5" y2="296.5" stroke="#12780A" stroke-width="1.27"/>
<text x="338.05" y="298.8" font-size="7.6" fill="#222" stroke="#222" stroke-width="0.12">Soybean</text>
<line x1="322.6" x2="336.8" y1="305.2" y2="305.2" stroke="#A00CEB" stroke-width="1.27"/>
<text x="338.05" y="307.5" font-size="7.6" fill="#222" stroke="#222" stroke-width="0.12">Sugar beet</text>
<line x1="322.6" x2="336.8" y1="313.9" y2="313.9" stroke="#84EB62" stroke-width="0.98"/>
<text x="338.05" y="316.2" font-size="7.6" fill="#222" stroke="#222" stroke-width="0.12">Hay</text>
</g>
</svg></body></html>
